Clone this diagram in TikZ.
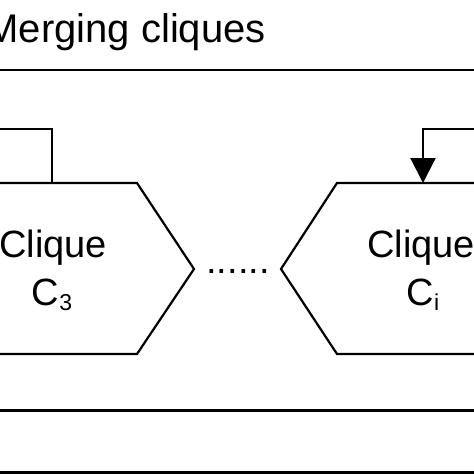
\documentclass[tikz,border=0pt]{standalone}
\usepackage{fontspec}
\setmainfont{Liberation Sans}
\usetikzlibrary{arrows.meta}
\begin{document}
\begin{tikzpicture}[x=1pt,y=-1pt,
  titletext/.style={anchor=base east, inner sep=0pt, font=\fontsize{40}{48}\selectfont},
  cliquetext/.style={anchor=base, inner sep=0pt, font=\fontsize{38}{46}\selectfont},
  rulethin/.style={line width=2.5pt},
  rulethick/.style={line width=3pt},
  shapeline/.style={line width=2.2pt, line join=miter},
  loopline/.style={line width=2.2pt},
  looparrow/.style={line width=2.2pt, -{Triangle[width=25pt,length=25pt]}}]
\useasboundingbox (0,0) rectangle (474,474);
% title and rules
\node[titletext] (title) at (266,42.5) {Merging cliques};
\draw[rulethin] (-5,70) -- (479,70);
\draw[rulethick] (-5,410) -- (479,410);
\draw[rulethick] (-5,472.5) -- (479,472.5);
% clique shapes
\draw[shapeline] (-5,183) -- (137,183) -- (194,269) -- (137,354) -- (-5,354);
\draw[shapeline] (479,183) -- (337,183) -- (281,269) -- (337,354) -- (479,354);
% texts
\node[cliquetext] (cliqueA) at (53,257) {Clique};
\node[cliquetext] (cA) at (52,305) {C\raisebox{-5pt}{\fontsize{23}{23}\selectfont 3}};
\node[cliquetext] (cliqueB) at (421,257) {Clique};
\node[cliquetext] (cB) at (423,305) {C\raisebox{-5pt}{\fontsize{23}{23}\selectfont i}};
\node[cliquetext] (dots) at (238,273) {......};
% loops
\coordinate (aTop) at (52,183);
\coordinate (aUp) at (52,129);
\coordinate (aOut) at (-5,129);
\draw[loopline] (aTop) -- (aUp) -- (aOut);
\coordinate (bIn) at (479,129);
\coordinate (bUp) at (423,129);
\coordinate (bTop) at (423,183);
\draw[looparrow] (bIn) -- (bUp) -- (bTop);
\end{tikzpicture}
\end{document}
